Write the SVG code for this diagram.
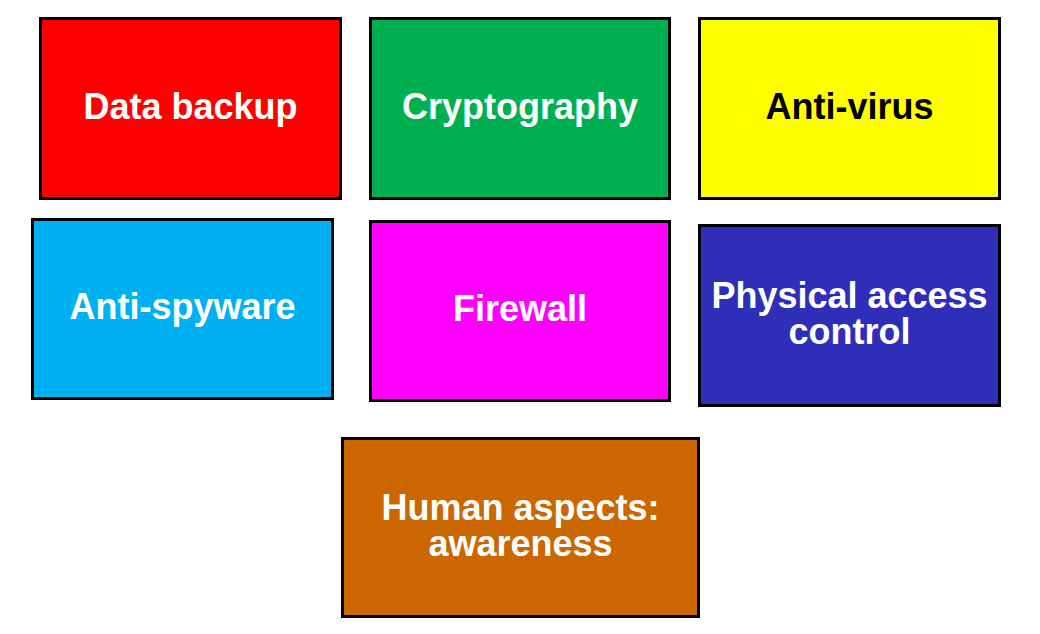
<svg xmlns="http://www.w3.org/2000/svg" width="1040" height="634" viewBox="0 0 1040 634">
<style>
.box{stroke:#000;stroke-width:3}
.t{font-family:"Liberation Sans",Arial,sans-serif;font-weight:bold;font-size:36px;fill:#fff;text-anchor:middle}
.dark{fill:#000}
</style>
<rect width="1040" height="634" fill="#fff"/>
<g id="data-backup"><rect class="box" x="40.5" y="18.5" width="300" height="180" fill="#FF0000"/><text class="t" x="190.5" y="119">Data backup</text></g>
<g id="cryptography"><rect class="box" x="370.5" y="18.5" width="299" height="180" fill="#00B050"/><text class="t" x="520" y="119">Cryptography</text></g>
<g id="anti-virus"><rect class="box" x="699.5" y="18.5" width="300" height="180" fill="#FFFF00"/><text class="t dark" x="849.5" y="119">Anti-virus</text></g>
<g id="anti-spyware"><rect class="box" x="32.5" y="219.5" width="300" height="179" fill="#00B0F0"/><text class="t" x="182.5" y="319">Anti-spyware</text></g>
<g id="firewall"><rect class="box" x="370.5" y="221.5" width="299" height="179" fill="#FF00FF"/><text class="t" x="520" y="321">Firewall</text></g>
<g id="physical-access-control"><rect class="box" x="699.5" y="225.5" width="300" height="180" fill="#2E2EB8"/><text class="t" x="849.5" y="308">Physical access</text><text class="t" x="849.5" y="344">control</text></g>
<g id="human-aspects"><rect class="box" x="342.5" y="438.5" width="356" height="178" fill="#CC6600"/><text class="t" x="520.5" y="520">Human aspects:</text><text class="t" x="520.5" y="556">awareness</text></g>
<g id="connectors"/>
</svg>
